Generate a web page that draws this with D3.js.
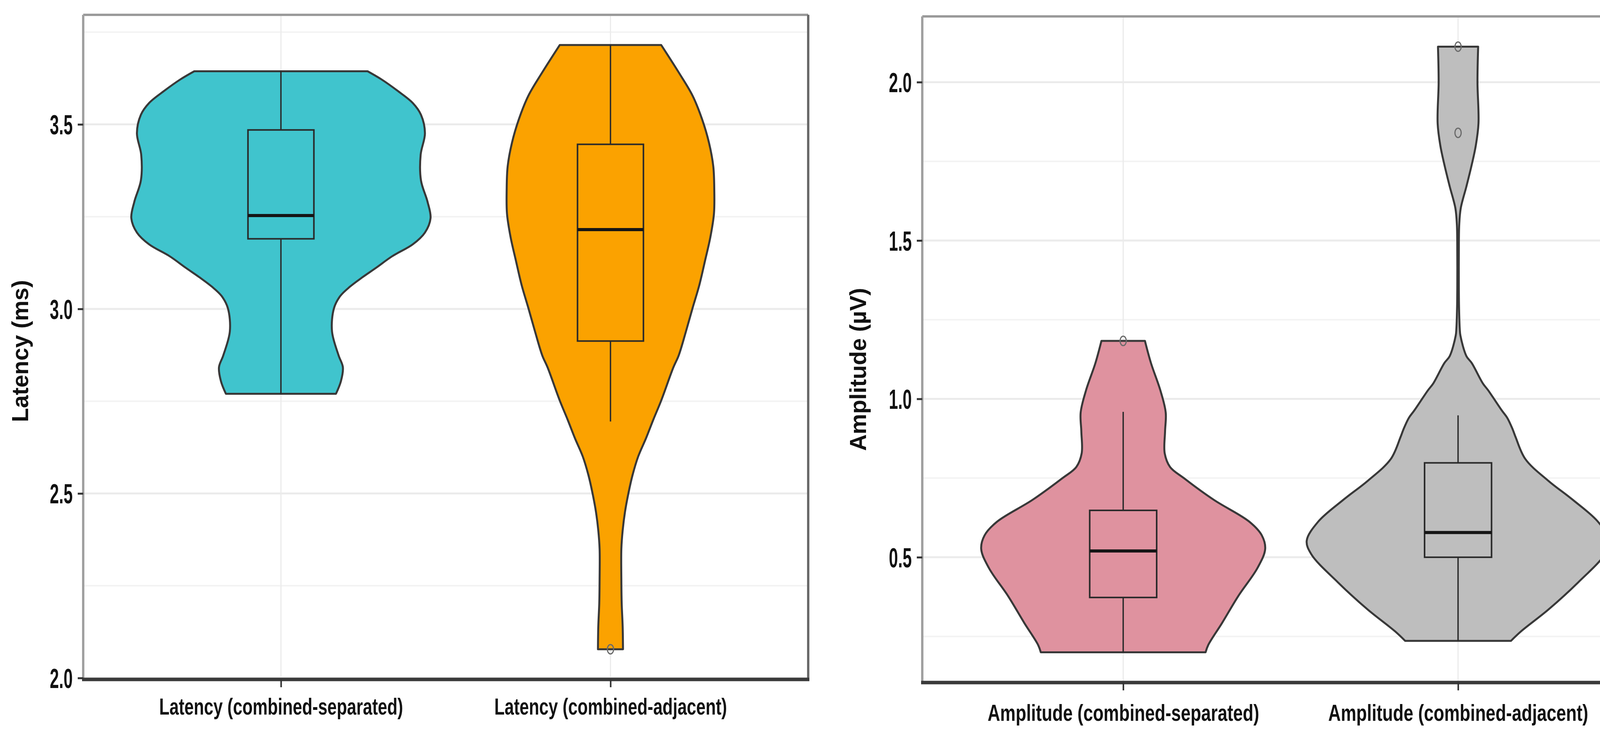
<!DOCTYPE html>
<html>
<head>
<meta charset="utf-8">
<script src="https://cdn.jsdelivr.net/npm/d3@7"></script>
<style>
  body { margin: 0; background: #fff; overflow: hidden; }
  svg { display: block; }
  text { font-family: "Liberation Sans", Arial, sans-serif; font-weight: bold; fill: #111; }
</style>
</head>
<body>
<div id="chart"></div>
<script>
// ---- data ----
var latCats = ["Latency (combined-separated)", "Latency (combined-adjacent)"];
var ampCats = ["Amplitude (combined-separated)", "Amplitude (combined-adjacent)"];
var latTicks = [2.0, 2.5, 3.0, 3.5];
var latMinor = [2.25, 2.75, 3.25, 3.75];
var ampTicks = [0.5, 1.0, 1.5, 2.0];
var ampMinor = [0.25, 0.75, 1.25, 1.75];

// violin outlines: value and half width (in category units)
var latSepValues = [3.644, 3.622, 3.591, 3.558, 3.526, 3.476, 3.418, 3.348, 3.29, 3.246, 3.207, 3.175, 3.143, 3.111, 3.085, 3.06, 3.035, 3.002, 2.939, 2.874, 2.842, 2.804, 2.770];
var latSepWidths = [0.263, 0.305, 0.354, 0.400, 0.425, 0.437, 0.424, 0.425, 0.445, 0.454, 0.437, 0.400, 0.338, 0.288, 0.246, 0.209, 0.180, 0.161, 0.155, 0.175, 0.188, 0.182, 0.167];
var latAdjValues = [3.715, 3.641, 3.578, 3.514, 3.45, 3.386, 3.322, 3.258, 3.194, 3.131, 3.066, 3.002, 2.939, 2.874, 2.842, 2.752, 2.70, 2.65, 2.60, 2.55, 2.503, 2.45, 2.40, 2.35, 2.267, 2.203, 2.139, 2.078];
var latAdjWidths = [0.154, 0.207, 0.249, 0.278, 0.299, 0.312, 0.315, 0.314, 0.303, 0.287, 0.270, 0.249, 0.229, 0.207, 0.191, 0.154, 0.130, 0.108, 0.084, 0.067, 0.055, 0.044, 0.037, 0.033, 0.033, 0.034, 0.037, 0.038];
var ampSepValues = [1.183, 1.113, 1.027, 0.957, 0.897, 0.828, 0.785, 0.750, 0.681, 0.612, 0.569, 0.526, 0.466, 0.378, 0.292, 0.223, 0.200];
var ampSepWidths = [0.065, 0.083, 0.111, 0.127, 0.125, 0.124, 0.140, 0.181, 0.271, 0.377, 0.414, 0.424, 0.401, 0.344, 0.295, 0.254, 0.246];
var ampAdjValues = [2.112, 2.0, 1.87, 1.80, 1.74, 1.671, 1.602, 1.55, 1.45, 1.35, 1.286, 1.222, 1.2, 1.135, 1.113, 1.049, 1.027, 0.963, 0.940, 0.904, 0.879, 0.810, 0.741, 0.681, 0.612, 0.552, 0.509, 0.421, 0.335, 0.266, 0.236];
var ampAdjWidths = [0.060, 0.058, 0.061, 0.053, 0.041, 0.025, 0.008, 0.0035, 0.0023, 0.0023, 0.003, 0.005, 0.007, 0.025, 0.041, 0.074, 0.090, 0.131, 0.147, 0.163, 0.172, 0.201, 0.270, 0.343, 0.418, 0.452, 0.438, 0.359, 0.270, 0.188, 0.158];

// box stats: lower whisker, q1, median, q3, upper whisker
var latSepBox = [2.770, 3.190, 3.253, 3.485, 3.644];
var latAdjBox = [2.695, 2.913, 3.215, 3.446, 3.715];
var ampSepBox = [0.200, 0.373, 0.520, 0.648, 0.959];
var ampAdjBox = [0.236, 0.500, 0.578, 0.798, 0.948];
var latSepOut = [];
var latAdjOut = [2.078];
var ampSepOut = [1.183];
var ampAdjOut = [1.840, 2.112];

var latFills = ["#40c4cd", "#fba200"];
var ampFills = ["#df929f", "#bebebe"];

var W = 4277, H = 1890;

var svg = d3.select("#chart").append("svg")
	.attr("width", W)
	.attr("height", H);

svg.append("rect").attr("width", W).attr("height", H).attr("fill", "#fff");

function zip(vals, widths) {
	return vals.map(function (v, i) { return [v, widths[i]]; });
}

// one ggplot-like violin panel
function drawPanel(opt) {
	var g = svg.append("g");

	var all = [];
	opt.violins.forEach(function (d) { all = all.concat(d.values, d.out); });
	var ext = d3.extent(all);
	var pad = (ext[1] - ext[0]) * 0.05;

	var x = d3.scaleLinear().domain([0.4, 2.6]).range([opt.left, opt.right]);
	var y = d3.scaleLinear().domain([ext[0] - pad, ext[1] + pad]).range([opt.bottom, opt.top]);
	var unit = x(1) - x(0);

	// grid
	g.selectAll(".minor").data(opt.minor.filter(function (v) { return v > y.domain()[0] && v < y.domain()[1]; }))
		.enter().append("line")
		.attr("x1", opt.left).attr("x2", opt.right)
		.attr("y1", function (d) { return y(d); }).attr("y2", function (d) { return y(d); })
		.attr("stroke", "#f3f3f3").attr("stroke-width", 4);
	g.selectAll(".major").data(opt.ticks)
		.enter().append("line")
		.attr("x1", opt.left).attr("x2", opt.right)
		.attr("y1", function (d) { return y(d); }).attr("y2", function (d) { return y(d); })
		.attr("stroke", "#ebebeb").attr("stroke-width", 5);
	g.selectAll(".vgrid").data([1, 2])
		.enter().append("line")
		.attr("x1", function (d) { return x(d); }).attr("x2", function (d) { return x(d); })
		.attr("y1", opt.top).attr("y2", opt.bottom)
		.attr("stroke", "#ebebeb").attr("stroke-width", 3);

	opt.violins.forEach(function (d, i) {
		var cx = x(i + 1);
		var area = d3.area()
			.curve(d3.curveCatmullRom)
			.y(function (p) { return y(p[0]); })
			.x0(function (p) { return cx - p[1] * unit; })
			.x1(function (p) { return cx + p[1] * unit; });

		g.append("path")
			.datum(zip(d.values, d.widths))
			.attr("d", area)
			.attr("fill", d.fill)
			.attr("stroke", "#383838")
			.attr("stroke-width", 5)
			.attr("stroke-linejoin", "round");

		var b = d.box, bw = 0.1 * unit;
		g.append("line")
			.attr("x1", cx).attr("x2", cx)
			.attr("y1", y(b[4])).attr("y2", y(b[3]))
			.attr("stroke", "#2a2a2a").attr("stroke-width", 3.5);
		g.append("line")
			.attr("x1", cx).attr("x2", cx)
			.attr("y1", y(b[1])).attr("y2", y(b[0]))
			.attr("stroke", "#2a2a2a").attr("stroke-width", 3.5);
		g.append("rect")
			.attr("x", cx - bw).attr("width", 2 * bw)
			.attr("y", y(b[3])).attr("height", y(b[1]) - y(b[3]))
			.attr("fill", d.fill)
			.attr("stroke", "#2a2a2a").attr("stroke-width", 4);
		g.append("line")
			.attr("x1", cx - bw).attr("x2", cx + bw)
			.attr("y1", y(b[2])).attr("y2", y(b[2]))
			.attr("stroke", "#151515").attr("stroke-width", 8);

		g.selectAll(null).data(d.out)
			.enter().append("ellipse")
			.attr("cx", cx)
			.attr("cy", function (v) { return y(v); })
			.attr("rx", 8).attr("ry", 12)
			.attr("fill", "none")
			.attr("stroke", "#6a6a6a").attr("stroke-width", 3);
	});

	// frame
	g.append("line").attr("x1", opt.left).attr("x2", opt.right).attr("y1", opt.top).attr("y2", opt.top)
		.attr("stroke", "#9a9a9a").attr("stroke-width", 6);
	g.append("line").attr("x1", opt.left).attr("x2", opt.left).attr("y1", opt.top).attr("y2", opt.bottom)
		.attr("stroke", "#a0a0a0").attr("stroke-width", 6);
	g.append("line").attr("x1", opt.right).attr("x2", opt.right).attr("y1", opt.top).attr("y2", opt.bottom)
		.attr("stroke", "#6a6a6a").attr("stroke-width", 6);
	g.append("line").attr("x1", opt.left - 3).attr("x2", opt.right + 3).attr("y1", opt.bottom).attr("y2", opt.bottom)
		.attr("stroke", "#3a3a3a").attr("stroke-width", 9);

	// axes
	var yAxis = d3.axisLeft(y).tickValues(opt.ticks).tickFormat(d3.format(".1f")).tickSize(14);
	var ya = g.append("g")
		.attr("transform", "translate(" + opt.left + ",0)")
		.call(yAxis);
	ya.select(".domain").remove();
	ya.selectAll(".tick line").attr("stroke", "#333").attr("stroke-width", 5);
	ya.selectAll(".tick text")
		.attr("font-size", 70)
		.attr("x", -27 / 0.6)
		.attr("dy", "0.36em")
		.attr("transform", "scale(0.6,1)");

	var xAxis = d3.axisBottom(x).tickValues([1, 2])
		.tickFormat(function (d) { return opt.cats[d - 1]; })
		.tickSize(20);
	var xa = g.append("g")
		.attr("transform", "translate(0," + opt.bottom + ")")
		.call(xAxis);
	xa.select(".domain").remove();
	xa.selectAll(".tick line").attr("stroke", "#333").attr("stroke-width", 4);
	xa.selectAll(".tick text")
		.attr("font-size", 59)
		.attr("y", opt.labelDrop)
		.attr("dy", 0)
		.attr("transform", "scale(" + opt.labelScale + ",1)");

	// y title
	g.append("text")
		.attr("transform", "translate(" + opt.titleX + "," + opt.titleY + ") rotate(-90)")
		.attr("text-anchor", "middle")
		.attr("font-size", 59)
		.text(opt.title);
}

drawPanel({
	left: 213, right: 2069, top: 38, bottom: 1740,
	cats: latCats, ticks: latTicks, minor: latMinor,
	labelDrop: 90, labelScale: 0.73,
	title: "Latency (ms)", titleX: 72, titleY: 899,
	violins: [
		{ values: latSepValues, widths: latSepWidths, box: latSepBox, out: latSepOut, fill: latFills[0] },
		{ values: latAdjValues, widths: latAdjWidths, box: latAdjBox, out: latAdjOut, fill: latFills[1] }
	]
});

drawPanel({
	left: 2361, right: 4247, top: 42, bottom: 1748,
	cats: ampCats, ticks: ampTicks, minor: ampMinor,
	labelDrop: 98, labelScale: 0.755,
	title: "Amplitude (µV)", titleX: 2217, titleY: 946,
	violins: [
		{ values: ampSepValues, widths: ampSepWidths, box: ampSepBox, out: ampSepOut, fill: ampFills[0] },
		{ values: ampAdjValues, widths: ampAdjWidths, box: ampAdjBox, out: ampAdjOut, fill: ampFills[1] }
	]
});
</script>
</body>
</html>
